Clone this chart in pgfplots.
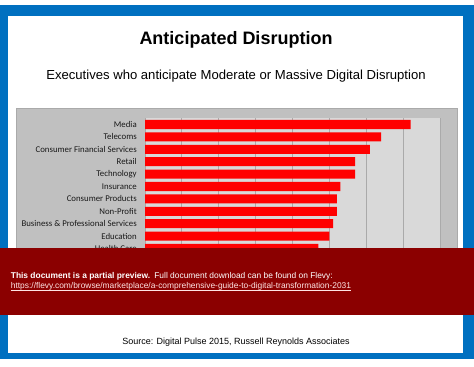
\documentclass[border=0pt]{standalone}
\usepackage{pgfplots}
\pgfplotsset{compat=1.18}
\usepackage{fontspec}
\setmainfont{Liberation Sans}
\newfontfamily\calfont{Carlito}
\definecolor{frameblue}{RGB}{0,112,192}
\definecolor{panelgray}{RGB}{192,192,192}
\definecolor{plotgray}{RGB}{217,217,217}
\definecolor{gridgray}{RGB}{170,170,170}
\definecolor{overlayred}{RGB}{139,0,0}
\definecolor{barred}{RGB}{255,0,0}
\begin{document}
\begin{tikzpicture}[x=1bp,y=1bp]
\path[use as bounding box] (0,0) rectangle (474,366);
\fill[white] (0,0) rectangle (474,366);
\fill[frameblue] (0,7) rectangle (474,361);
\fill[white] (7.5,12.7) rectangle (463,350);
\node[anchor=base,font=\fontsize{18bp}{20bp}\selectfont\bfseries] at (236,321.7) {Anticipated Disruption};
\node[anchor=base,font=\fontsize{13.1bp}{15bp}\selectfont] at (236,286.7) {Executives who anticipate Moderate or Massive Digital Disruption};
\filldraw[fill=panelgray,draw=gridgray,line width=0.8bp] (16,80) rectangle (457.7,257.5);
\begin{axis}[
  at={(145bp,111.3bp)}, anchor=south west,
  scale only axis, width=295bp, height=136.4bp,
  xbar, bar width=0.73,
  xmin=0, xmax=80, xtick={0,10,...,80}, xticklabels={},
  ymin=-0.5, ymax=10.5, y dir=reverse,
  ytick={0,...,10},
  yticklabels={Media,Telecoms,Consumer Financial Services,Retail,Technology,Insurance,Consumer Products,Non-Profit,Business \& Professional Services,Education,Health Care},
  yticklabel style={font=\calfont\fontsize{8.8bp}{10bp}\selectfont, color=black!90, xshift=-0.5bp},
  xmajorgrids, major grid style={gridgray, line width=0.8bp},
  axis background/.style={fill=plotgray},
  axis line style={draw=none}, tick style={draw=none},
  clip=false,
]
\addplot[fill=barred, draw=none] coordinates {
(72,0) (64,1) (61,2) (57,3) (57,4) (53,5) (52,6) (52,7) (51,8) (50,9) (47,10)};
\end{axis}
\fill[overlayred] (0,51) rectangle (474,117.7);
\node[anchor=base west,inner sep=0,text=white,font=\fontsize{8.4bp}{9bp}\selectfont] at (10.7,87.3) {\textbf{This document is a partial preview.}\enspace Full document download can be found on Flevy:};
\node[anchor=base west,inner sep=0,text=white!90!red,font=\fontsize{8.4bp}{9bp}\selectfont] (lnk) at (10.7,77.3) {https://flevy.com/browse/marketplace/a-comprehensive-guide-to-digital-transformation-2031};
\draw[white!90!red,line width=0.4bp] ([yshift=-1.2bp]lnk.base west) -- ([yshift=-1.2bp]lnk.base east);
\node[anchor=base,font=\fontsize{9bp}{11bp}\selectfont] at (236,22) {Source: Digital Pulse 2015, Russell Reynolds Associates};
\end{tikzpicture}
\end{document}
